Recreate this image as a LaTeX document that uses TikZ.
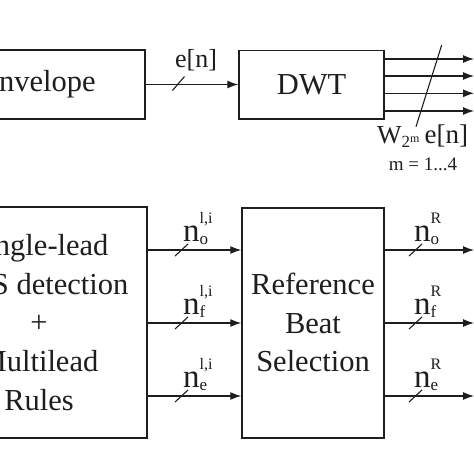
\documentclass[tikz,border=0pt]{standalone}
\usepackage{fontspec}
\setmainfont{Liberation Serif}
\usetikzlibrary{arrows.meta,calc}
\newcommand{\myscr}[3]{{\fontsize{33}{33}\selectfont #1}\rlap{\raisebox{18pt}{\fontsize{16}{16}\selectfont #2}}\raisebox{-3pt}{\fontsize{17}{17}\selectfont #3}}
\definecolor{ink}{HTML}{1E1E1E}
\begin{document}
\begin{tikzpicture}[x=1pt,y=-1pt,
  blockbox/.style={draw=ink,line width=1.5pt,inner sep=0pt,align=center,
    font=\fontsize{30.5}{38.6}\selectfont,text=ink},
  sig/.style={draw=ink,line width=1.2pt,-{Latex[length=11pt,width=8pt]}},
  slashmark/.style={draw=ink,line width=1.1pt},
  lbl/.style={inner sep=0pt,text=ink,anchor=base west}]
\useasboundingbox (0,0) rectangle (474,474);
\fill[white] (0,0) rectangle (474,474);
% blocks
\node[blockbox,minimum width=214pt,minimum height=69pt] (env) at (38,84.5) {Envelope};
\node[blockbox,minimum width=145pt,minimum height=68.5pt] (dwt) at (311.5,84.5) {DWT};
\node[blockbox,minimum width=216pt,minimum height=231pt] (det) at (39,322.5)
  {Single-lead\\QRS detection\\+\\Multilead\\Rules};
\node[blockbox,minimum width=142pt,minimum height=230pt] (ref) at (313,322.8)
  {Reference\\Beat\\Selection};
% top connectors
\draw[sig] (env) -- (dwt);
\draw[slashmark] (172.5,90.5) -- (184.5,76.5);
\node[lbl,font=\fontsize{26}{26}\selectfont] (lbe) at (175,67) {e[n]};
\coordinate (o1) at (474,59);
\coordinate (o2) at (474,76);
\coordinate (o3) at (474,93.3);
\coordinate (o4) at (474,111);
\foreach \k in {1,2,3,4}{\draw[sig] (dwt.east |- o\k) -- (o\k);}
\draw[slashmark] (441.7,45) -- (416,126.7);
\node[lbl] (lbw) at (377,143) {{\fontsize{26}{26}\selectfont W}\raisebox{-4pt}{\fontsize{17}{17}\selectfont 2\raisebox{5pt}{\fontsize{12}{12}\selectfont m}}\hspace{5pt}{\fontsize{27}{27}\selectfont e[n]}};
\node[inner sep=0pt,anchor=base,text=ink,font=\fontsize{19}{19}\selectfont] (lbm) at (423,170) {m = 1...4};
% bottom connectors
\coordinate (y1) at (0,250);
\coordinate (y2) at (0,323);
\coordinate (y3) at (0,396);
\coordinate (r1) at (474,250);
\coordinate (r2) at (474,323);
\coordinate (r3) at (474,396);
\foreach \k in {1,2,3}{
  \draw[sig] (det.east |- y\k) -- (ref.west |- y\k);
  \draw[sig] (ref.east |- r\k) -- (r\k);
}
\foreach \yy in {250,323,396}{
  \draw[slashmark] (175,\yy+6) -- (188,\yy-6);
  \draw[slashmark] (409,\yy+6) -- (422,\yy-6);
}
\node[lbl] (lo) at (183,241) {\myscr{n}{l,i}{o}};
\node[lbl] (lf) at (183,314) {\myscr{n}{l,i}{f}};
\node[lbl] (le) at (183,387) {\myscr{n}{l,i}{e}};
\node[lbl] (ro) at (414,241) {\myscr{n}{R}{o}};
\node[lbl] (rf) at (414,314) {\myscr{n}{R}{f}};
\node[lbl] (re) at (414,387) {\myscr{n}{R}{e}};
\end{tikzpicture}
\end{document}
